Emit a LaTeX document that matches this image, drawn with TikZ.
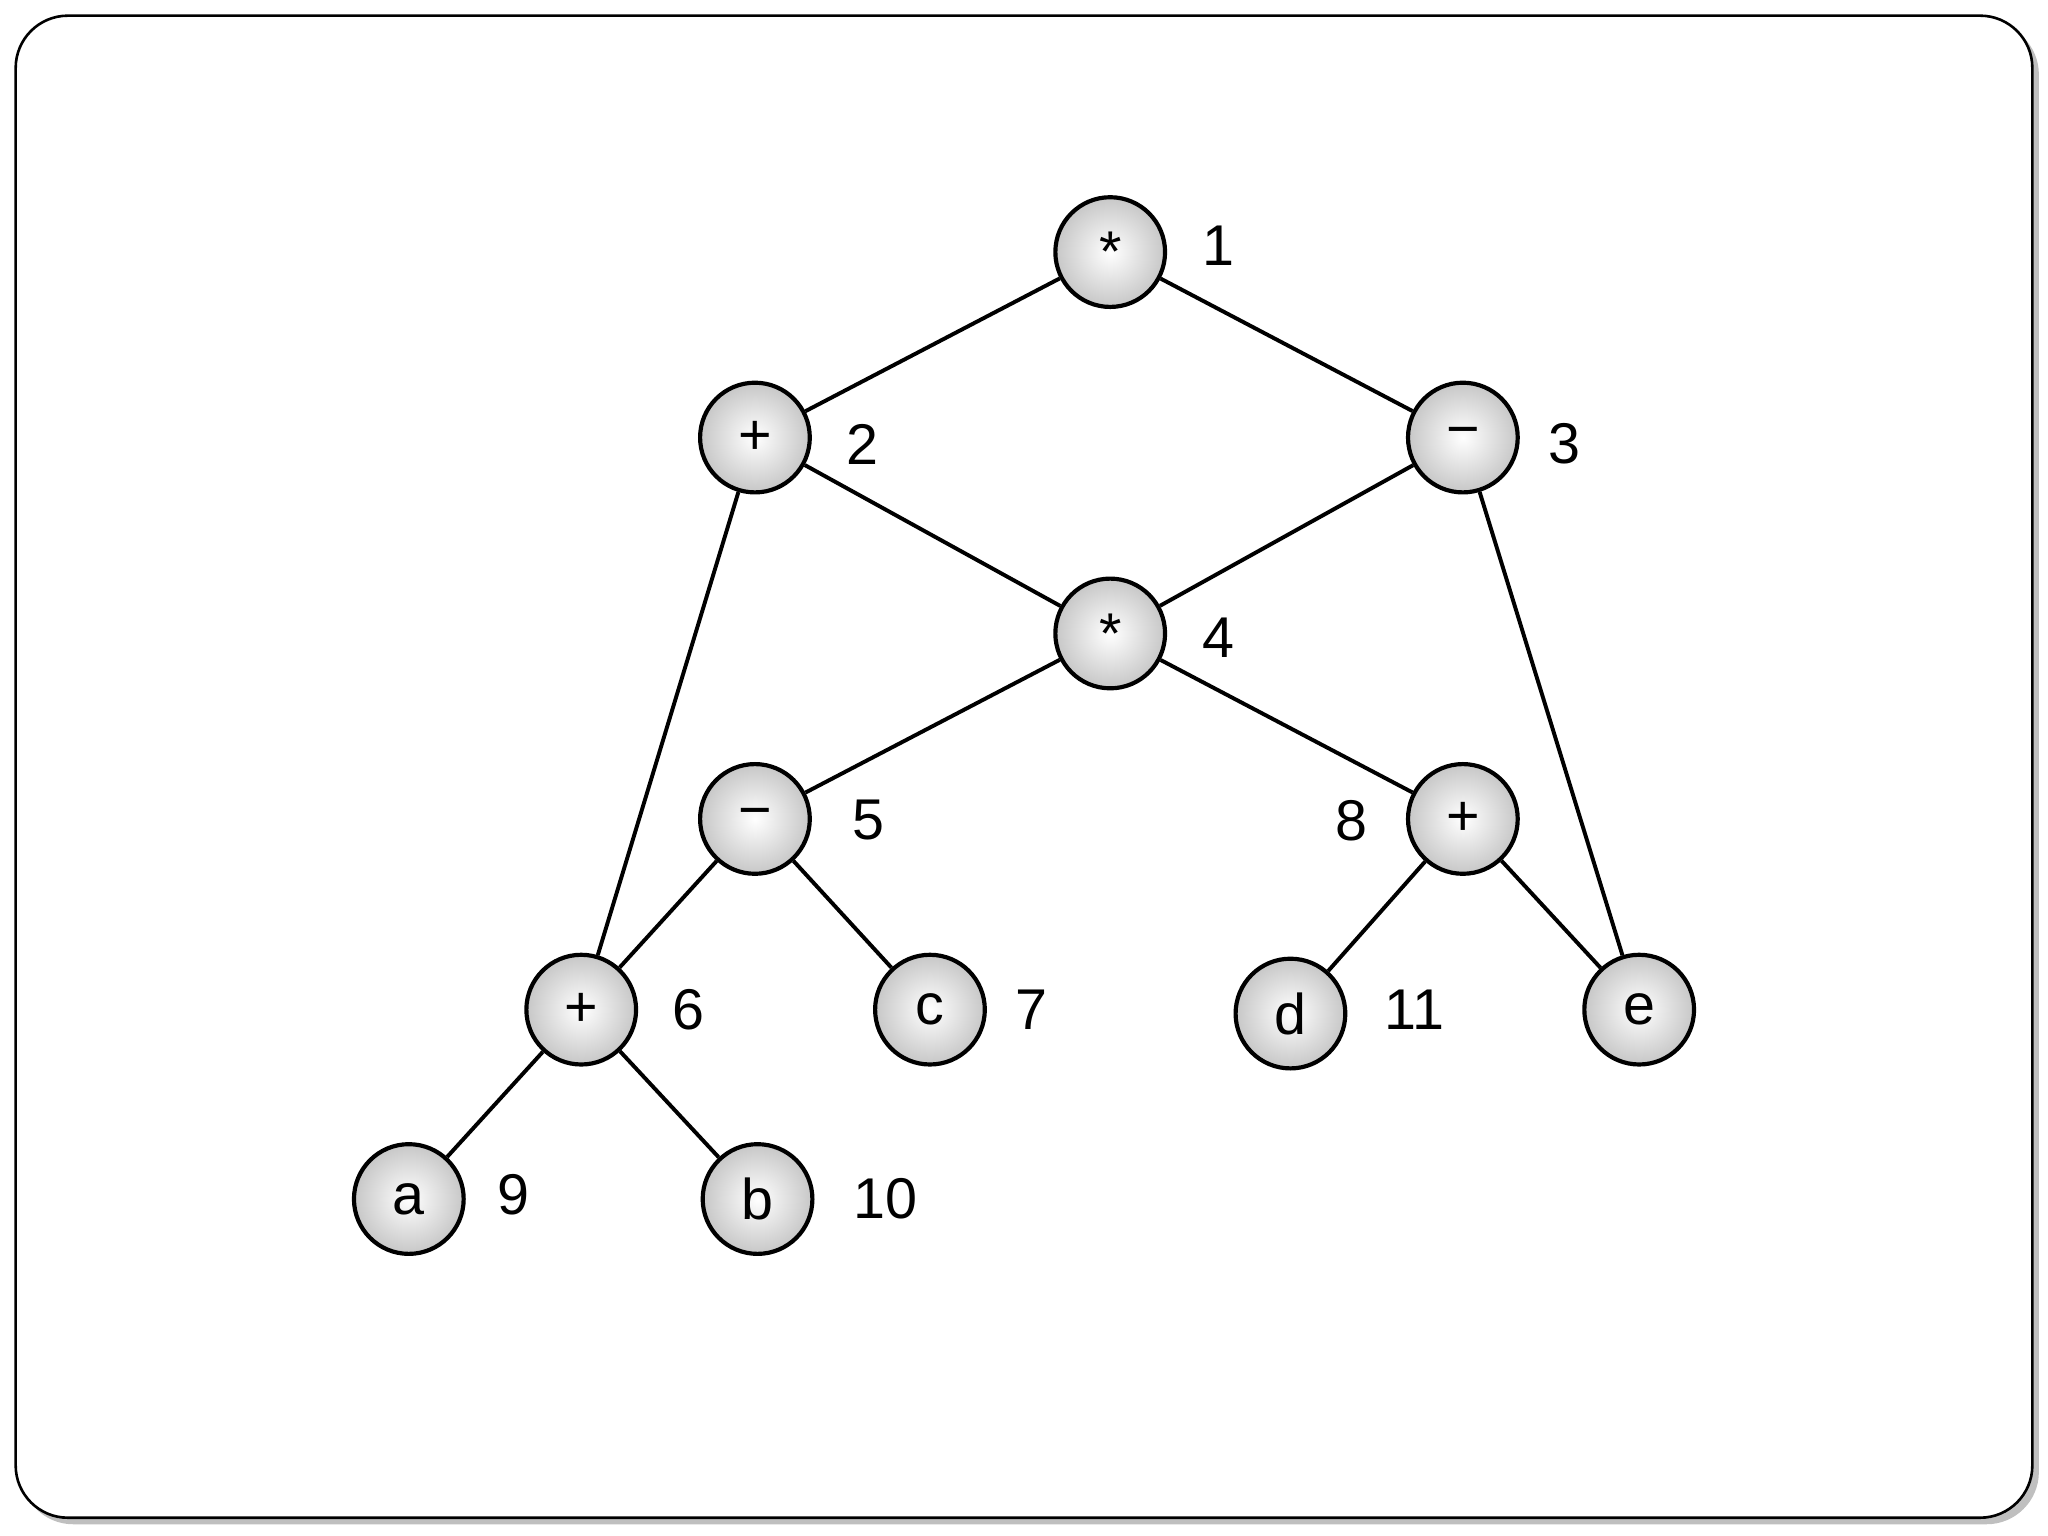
\documentclass[tikz,border=0pt]{standalone}
\usepackage{fontspec}
\setmainfont{Liberation Sans}
\begin{document}
\begin{tikzpicture}[x=0.5pt,y=-0.5pt,
  vtx/.style={circle,draw=black,line width=1.6pt,minimum size=42pt,inner sep=0pt,
    inner color=white,outer color=black!22,font=\fontsize{22}{24}\selectfont},
  num/.style={font=\fontsize{22}{24}\selectfont},
  edge/.style={line width=1.5pt}]
\useasboundingbox (0,0) rectangle (1568,1176);
\fill[black!25,rounded corners=20pt] (16,17) rectangle (1561,1167);
\draw[line width=1pt,fill=white,rounded corners=20pt] (12,12) rectangle (1556,1162);
\node[vtx] (n1) at (850,193) {*};
\node[vtx] (n2) at (578,335) {+};
\node[vtx] (n3) at (1120,335) {−};
\node[vtx] (n4) at (850,485) {*};
\node[vtx] (n5) at (578,627) {−};
\node[vtx] (n8) at (1120,627) {+};
\node[vtx] (n6) at (445,773) {+};
\node[vtx] (nc) at (712,773) {c};
\node[vtx] (nd) at (988,776) {d};
\node[vtx] (ne) at (1255,773) {e};
\node[vtx] (na) at (313,918) {a};
\node[vtx] (nb) at (580,918) {b};
\node[num] (l1) at (933,188) {1};
\node[num] (l2) at (660,340) {2};
\node[num] (l3) at (1198,340) {3};
\node[num] (l4) at (933,488) {4};
\node[num] (l5) at (665,628) {5};
\node[num] (l8) at (1035,628) {8};
\node[num] (l6) at (527,773) {6};
\node[num] (l7) at (790,773) {7};
\node[num] (l11) at (1083,773) {11};
\node[num] (l9) at (393,915) {9};
\node[num] (l10) at (678,918) {10};
\draw[edge] (n1)--(n2) (n1)--(n3) (n2)--(n4) (n3)--(n4) (n2)--(n6) (n3)--(ne)
 (n4)--(n5) (n4)--(n8) (n5)--(n6) (n5)--(nc) (n8)--(nd) (n8)--(ne) (n6)--(na) (n6)--(nb);
\end{tikzpicture}
\end{document}
